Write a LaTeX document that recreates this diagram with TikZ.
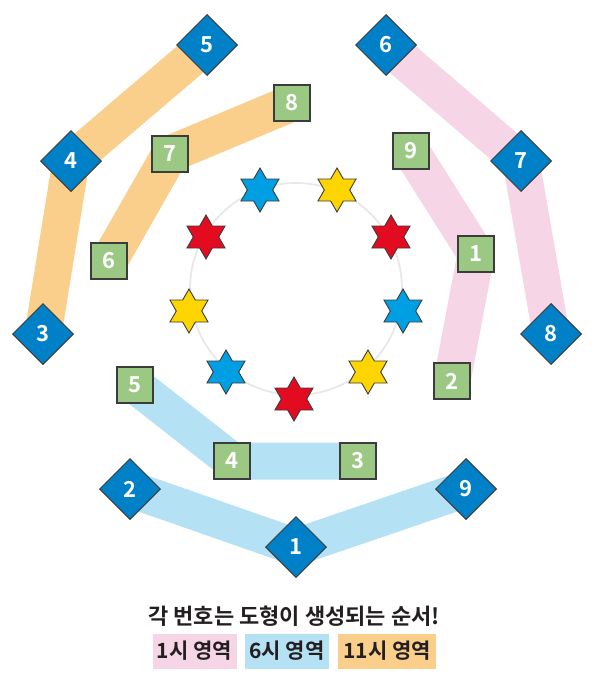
\documentclass[tikz,border=0pt]{standalone}
\usepackage{fontspec}
\newfontfamily\kr{Noto Sans CJK KR}[BoldFont={Noto Sans CJK KR Bold}]
\usetikzlibrary{shapes.geometric}
\pgfdeclarelayer{bg}
\pgfsetlayers{bg,main}
\definecolor{dblue}{HTML}{0080C6}
\definecolor{sgreen}{HTML}{9BC983}
\definecolor{borange}{HTML}{F9CF8B}
\definecolor{bpink}{HTML}{F6D5E6}
\definecolor{bblue}{HTML}{B5E1F5}
\definecolor{stblue}{HTML}{009FE3}
\definecolor{styellow}{HTML}{FFD500}
\definecolor{stred}{HTML}{E30B20}
\definecolor{txt}{HTML}{231F20}
\definecolor{edge}{HTML}{3C3C3C}
\tikzset{
  dia/.style={diamond, draw=edge, line width=1pt, fill=dblue, minimum width=61pt, minimum height=61pt, inner sep=0pt, text=white, font=\kr\bfseries\fontsize{22}{22}\selectfont},
  sq/.style={rectangle, draw=edge, line width=1.2pt, fill=sgreen, minimum size=36pt, inner sep=0pt, text=white, font=\kr\bfseries\fontsize{22}{22}\selectfont},
  band/.style={line width=37pt, line cap=round, line join=round},
  hstar/.style={star, star points=6, star point ratio=1.732, minimum size=44pt, inner sep=0pt, draw=edge, line width=0.9pt},
  lab/.style={inner sep=0pt, minimum height=35pt, text=txt, font=\kr\bfseries\fontsize{21}{21}\selectfont}
}
\begin{document}
\begin{tikzpicture}[x=1pt,y=-1pt]
\useasboundingbox (0,0) rectangle (597,688);
% circle
\node[circle, draw=black!9, line width=1.8pt, minimum size=212pt, inner sep=0pt] (ring) at (296,289) {};
% stars
\node[hstar, fill=stblue] (s1) at (260,190) {};
\node[hstar, fill=styellow] (s2) at (337,190) {};
\node[hstar, fill=stred] (s3) at (206,237) {};
\node[hstar, fill=stred] (s4) at (391,237) {};
\node[hstar, fill=styellow] (s5) at (189,311) {};
\node[hstar, fill=stblue] (s6) at (403,311) {};
\node[hstar, fill=stblue] (s7) at (226,372) {};
\node[hstar, fill=styellow] (s8) at (368,372) {};
\node[hstar, fill=stred] (s9) at (294,399) {};
% diamonds
\node[dia] (d5) at (207,45) {5};
\node[dia] (d4) at (71,161) {4};
\node[dia] (d3) at (43,334) {3};
\node[dia] (d6) at (386,45) {6};
\node[dia] (d7) at (521,161) {7};
\node[dia] (d8) at (551,334) {8};
\node[dia] (d2) at (130,489) {2};
\node[dia] (d1) at (296,547) {1};
\node[dia] (d9) at (466,489) {9};
% squares
\node[sq] (q8) at (292,103) {8};
\node[sq] (q7) at (170,154) {7};
\node[sq] (q6) at (109,261) {6};
\node[sq] (q9) at (411,151) {9};
\node[sq] (q1) at (476,254) {1};
\node[sq] (q2) at (452,381) {2};
\node[sq] (q5) at (135,385) {5};
\node[sq] (q4) at (232,461) {4};
\node[sq] (q3) at (358,461) {3};
% bands
\begin{pgfonlayer}{bg}
\draw[band, borange] (d5.center) -- (d4.center) -- (d3.center);
\draw[band, borange] (q8.center) -- (q7.center) -- (q6.center);
\draw[band, bpink] (d6.center) -- (d7.center) -- (d8.center);
\draw[band, bpink] (q9.center) -- (q1.center) -- (q2.center);
\draw[band, bblue] (q5.center) -- (q4.center) -- (q3.center);
\draw[band, bblue] (d2.center) -- (d1.center) -- (d9.center);
\end{pgfonlayer}
% text
\node[text=txt, font=\kr\bfseries\fontsize{22}{22}\selectfont, inner sep=0pt] (title) at (294,616) {각 번호는 도형이 생성되는 순서!};
\node[lab, fill=bpink, minimum width=84pt] (l1) at (194.5,651) {1시 영역};
\node[lab, fill=bblue, minimum width=84pt] (l2) at (287,651) {6시 영역};
\node[lab, fill=borange, minimum width=98pt] (l3) at (387,651) {11시 영역};
\end{tikzpicture}
\end{document}
